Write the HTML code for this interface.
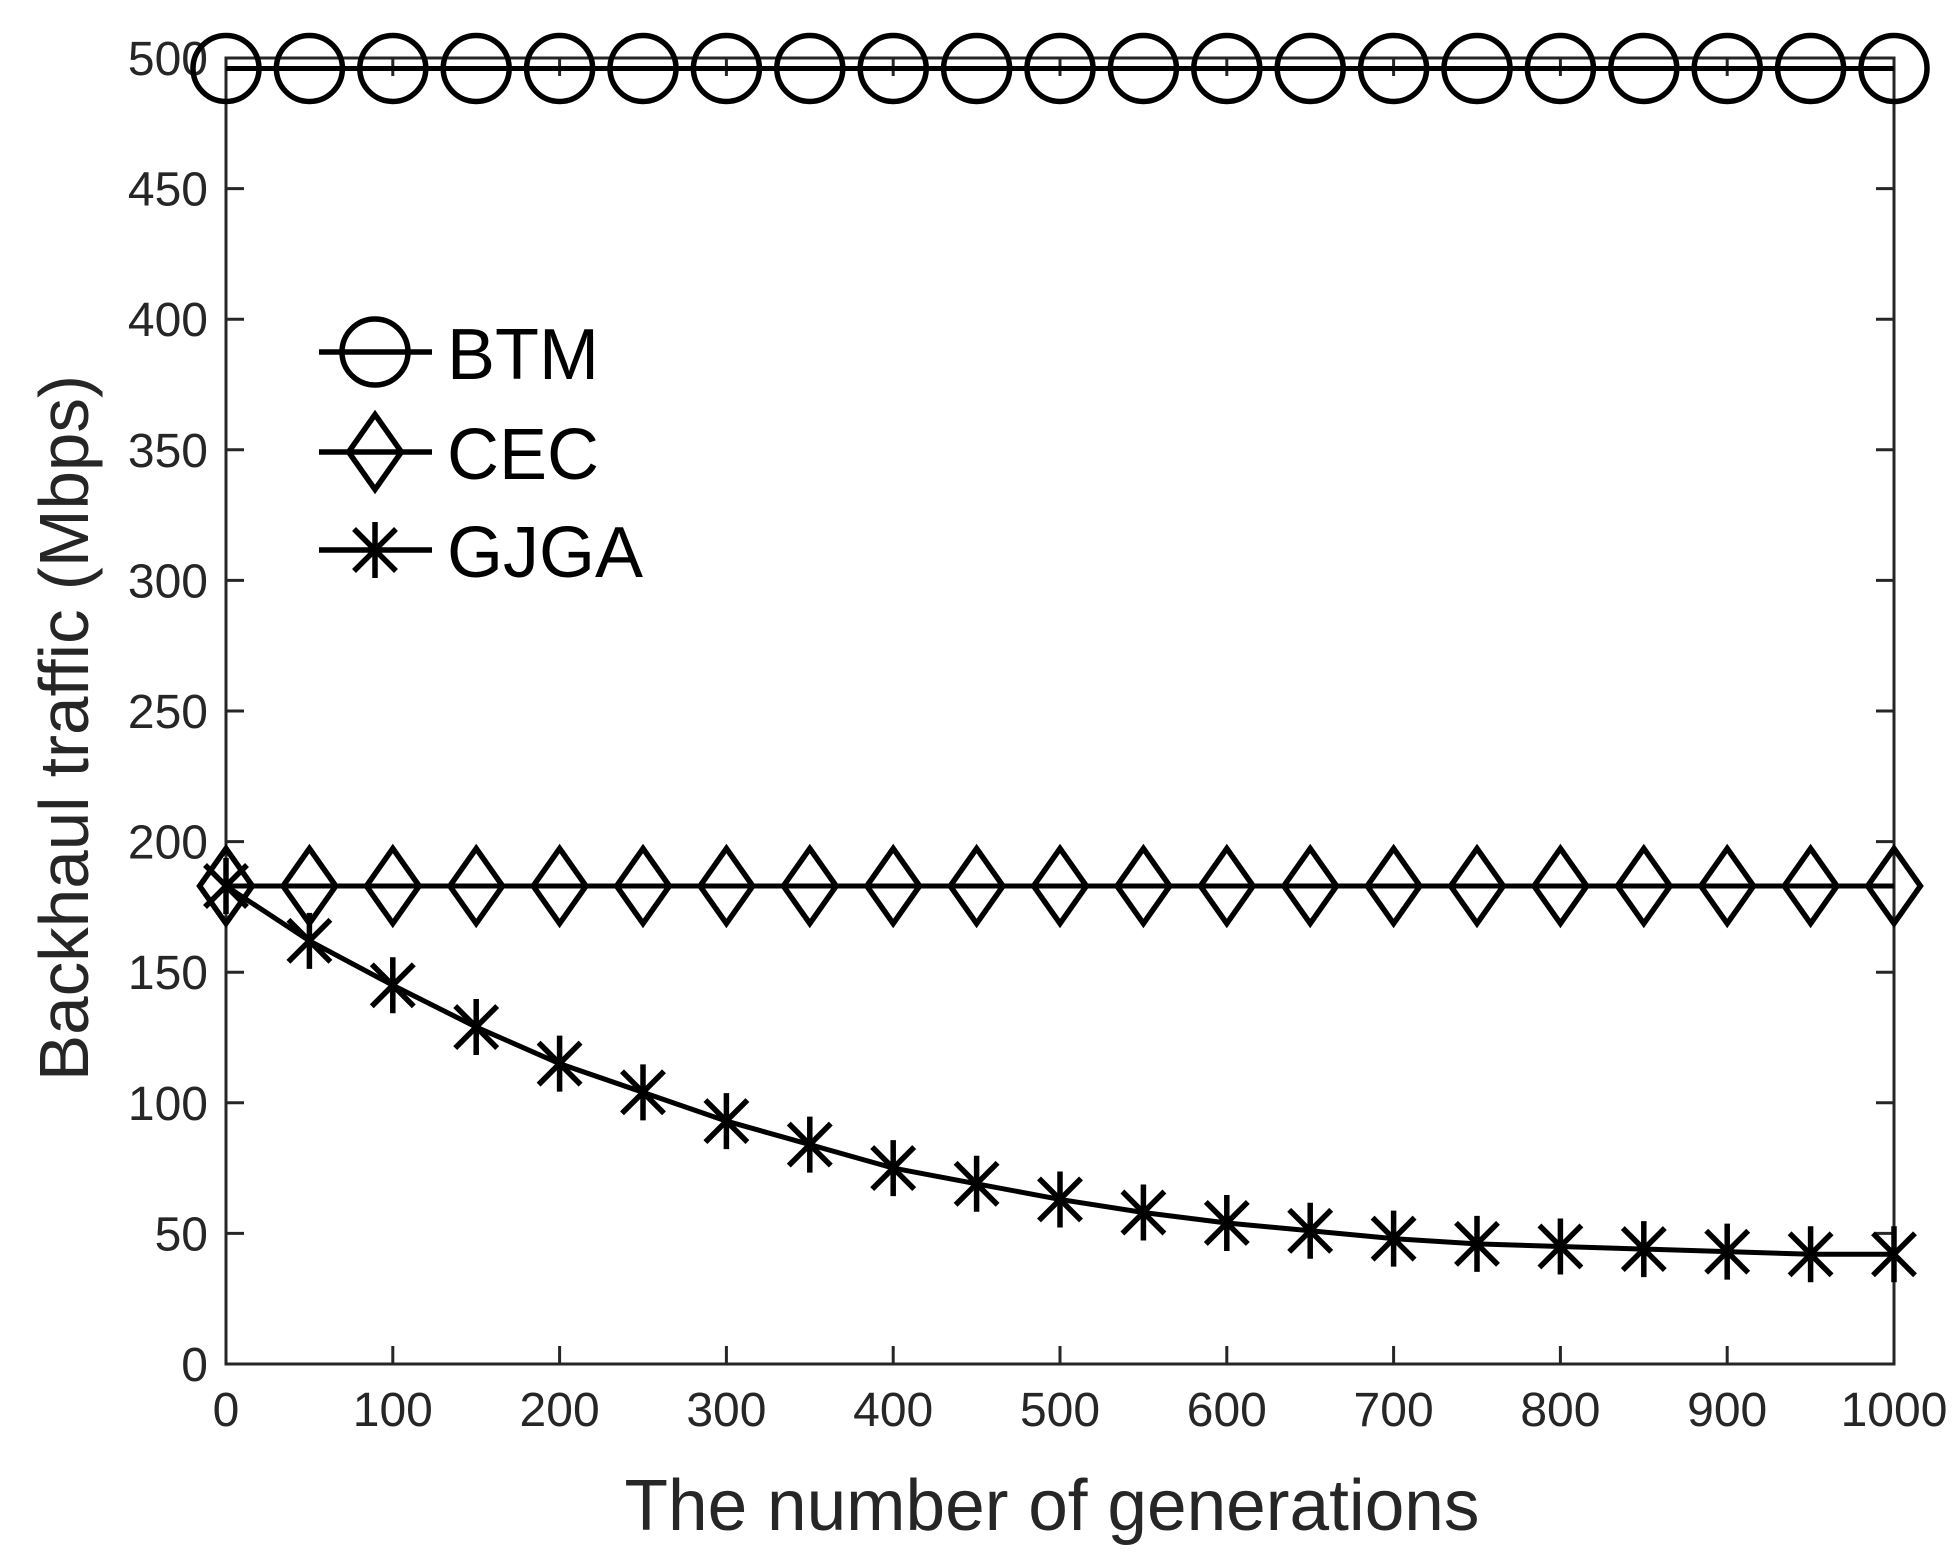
<!DOCTYPE html>
<html><head><meta charset="utf-8"><style>
html,body{margin:0;padding:0;background:#fff}
svg{display:block}
text{font-family:"Liberation Sans",sans-serif;fill:#262626}
</style></head><body>
<svg id="chart" width="1954" height="1556" viewBox="0 0 1954 1556" xmlns="http://www.w3.org/2000/svg">
<g id="axes"></g>
<g id="series"></g>
<text x="1052" y="1530" font-size="72" text-anchor="middle" textLength="855" lengthAdjust="spacingAndGlyphs">The number of generations</text>
<text transform="translate(88,728) rotate(-90)" font-size="70" text-anchor="middle" textLength="706" lengthAdjust="spacingAndGlyphs">Backhaul traffic (Mbps)</text>
<g id="legend"></g>
</svg>
<script>
const generations = [0,50,100,150,200,250,300,350,400,450,500,550,600,650,700,750,800,850,900,950,1000];
const btmValues = [496,496,496,496,496,496,496,496,496,496,496,496,496,496,496,496,496,496,496,496,496];
const cecValues = [183,183,183,183,183,183,183,183,183,183,183,183,183,183,183,183,183,183,183,183,183];
const gjgaValues = [183,162,145,129,115,104,93,84,75,69,63,58,54,51,48,46,45,44,43,42,42];
const xTicks = [0,100,200,300,400,500,600,700,800,900,1000];
const yTicks = [0,50,100,150,200,250,300,350,400,450,500];
const seriesNames = ['BTM','CEC','GJGA'];

const L=226,R=1894,T=58,B=1364;
const NS='http://www.w3.org/2000/svg';
const xs=v=>L+(v-0)/1000*(R-L);
const ys=v=>B-(v-0)/500*(B-T);
function mk(tag,attrs,parent){const e=document.createElementNS(NS,tag);for(const k in attrs)e.setAttribute(k,attrs[k]);parent.appendChild(e);return e;}
const axes=document.getElementById('axes');
const frame=mk('rect',{x:L,y:T,width:R-L,height:B-T,fill:'none',stroke:'#262626','stroke-width':3},axes);


xTicks.forEach(v=>{
  const x=xs(v);
  const t1=mk('line',{x1:x,y1:B,x2:x,y2:B-18,stroke:'#262626','stroke-width':3},axes);
  
  
  mk('line',{x1:x,y1:T,x2:x,y2:T+18,stroke:'#262626','stroke-width':3},axes);
  const tx=mk('text',{x:x,y:B+62,'font-size':48,'text-anchor':'middle'},axes);
  tx.textContent=v;
  
  
});
yTicks.forEach(v=>{
  const y=ys(v);
  const t1=mk('line',{x1:L,y1:y,x2:L+18,y2:y,stroke:'#262626','stroke-width':3},axes);
  
  
  mk('line',{x1:R,y1:y,x2:R-18,y2:y,stroke:'#262626','stroke-width':3},axes);
  const tx=mk('text',{x:L-18,y:y+17,'font-size':48,'text-anchor':'end'},axes);
  tx.textContent=v;
  
  
});
const sg=document.getElementById('series');
function marker(kind,x,y,g,s){
  const st={fill:'none',stroke:'#000','stroke-width':5.5};
  if(kind==='circle'){mk('circle',Object.assign({cx:x,cy:y,r:s},st),g);}
  else if(kind==='diamond'){mk('polygon',Object.assign({points:`${x},${y-s*1.25} ${x+s*0.88},${y} ${x},${y+s*1.25} ${x-s*0.88},${y}`},st),g);}
  else {const a=s*0.75;
    mk('line',Object.assign({x1:x,y1:y-s,x2:x,y2:y+s},st),g);
    mk('line',Object.assign({x1:x-a,y1:y-a,x2:x+a,y2:y+a},st),g);
    mk('line',Object.assign({x1:x-a,y1:y+a,x2:x+a,y2:y-a},st),g);}
}
const defs=[[btmValues,'circle',33,'btm-series'],[cecValues,'diamond',30,'cec-series'],[gjgaValues,'star',28,'gjga-series']];
defs.forEach(([vals,kind,s,name])=>{
  const g=mk('g',{},sg);
  
  
  const pts=generations.map((gv,i)=>xs(gv)+','+ys(vals[i])).join(' ');
  mk('polyline',{points:pts,fill:'none',stroke:'#000','stroke-width':5}, g);
  generations.forEach((gv,i)=>marker(kind,xs(gv),ys(vals[i]),g,s));
});
const lg=document.getElementById('legend');
const kinds=['circle','diamond','star'],sizes=[33,30,28],rowsY=[352,452,550];
seriesNames.forEach((n,i)=>{
  const g=mk('g',{},lg);
  
  
  mk('line',{x1:319,y1:rowsY[i],x2:432,y2:rowsY[i],stroke:'#000','stroke-width':5.5},g);
  marker(kinds[i],375,rowsY[i],g,sizes[i]);
  const t=mk('text',{x:447,y:rowsY[i]+27,'font-size':72},g);
  t.style.fill='#000';
  t.textContent=n;
});
</script>
</body></html>
